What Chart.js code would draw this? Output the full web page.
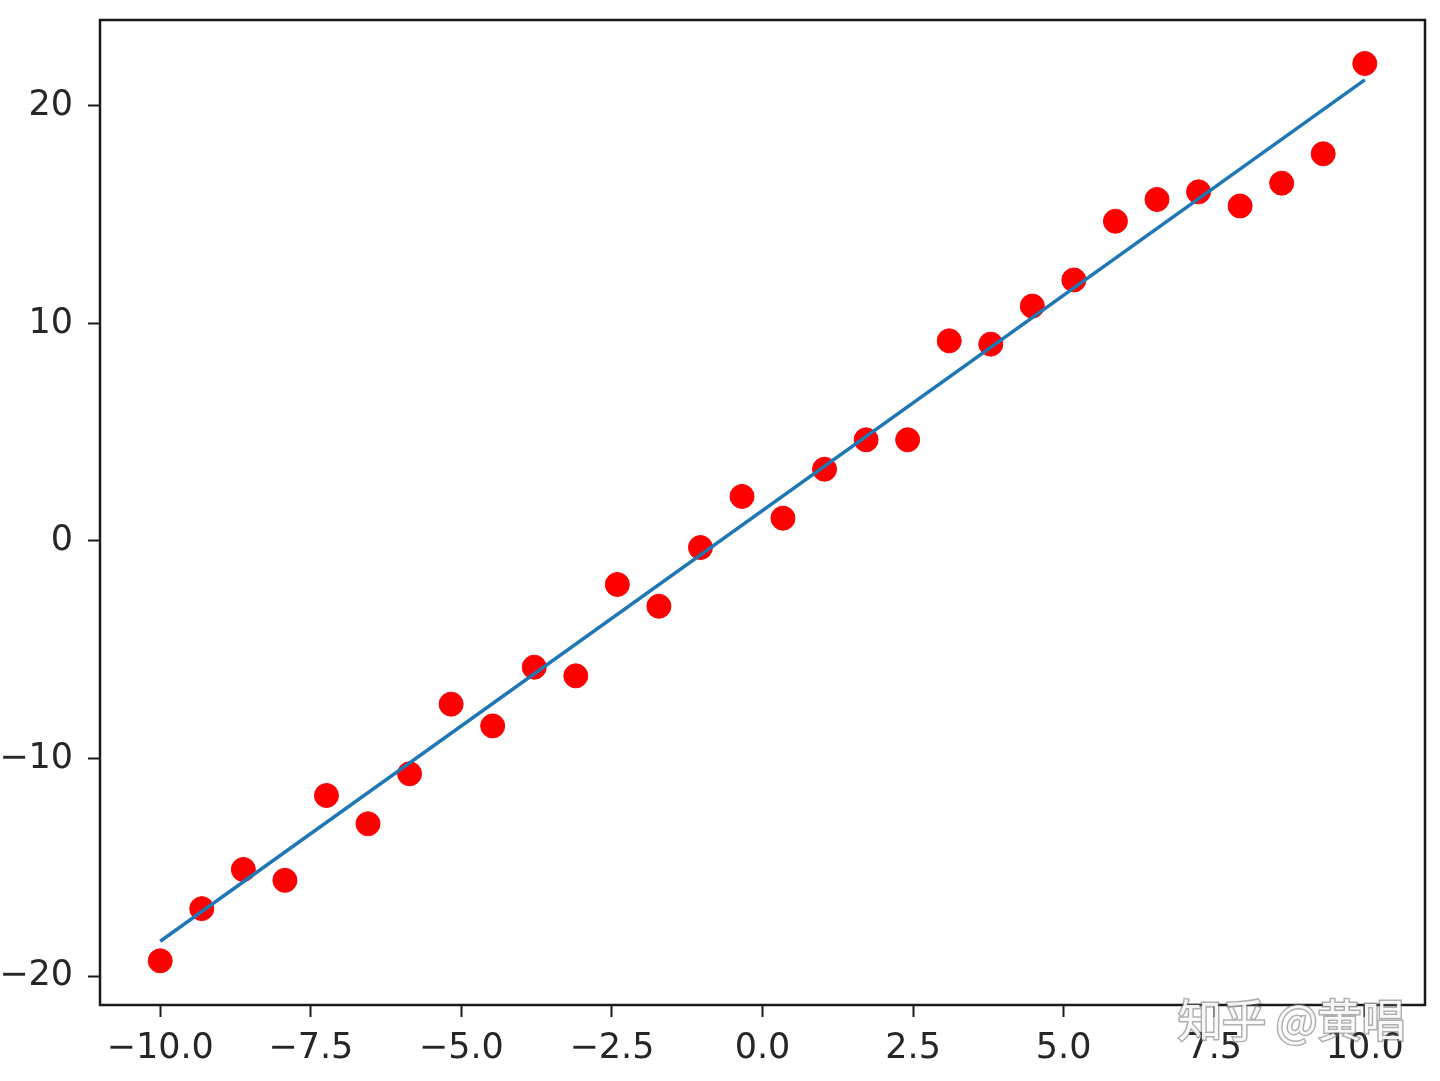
<!DOCTYPE html>
<html>
<head>
<meta charset="utf-8">
<script src="https://cdn.jsdelivr.net/npm/chart.js@4/dist/chart.umd.min.js"></script>
<style>
  html, body { margin: 0; padding: 0; background: #fff; }
  #wrap { width: 1440px; height: 1081px; }
</style>
</head>
<body>
<div id="wrap"><canvas id="myChart" width="1440" height="1081"></canvas></div>
<script>
// sample points
var xVals = [-10, -9.31, -8.62, -7.93, -7.24, -6.55, -5.86, -5.17, -4.48, -3.79,
             -3.10, -2.41, -1.72, -1.03, -0.34, 0.34, 1.03, 1.72, 2.41, 3.10,
             3.79, 4.48, 5.17, 5.86, 6.55, 7.24, 7.93, 8.62, 9.31, 10]
var yVals = [-19.3, -16.9, -15.1, -15.6, -11.7, -13.0, -10.7, -7.5, -8.5, -5.8,
             -6.2, -2.0, -3.0, -0.3, 2.05, 1.05, 3.3, 4.65, 4.65, 9.2,
             9.05, 10.8, 12.0, 14.7, 15.7, 16.05, 15.4, 16.45, 17.8, 21.95]
// fitted line end points
var lineX = [-10, 10]
var lineY = [-18.4, 21.2]

var xTicks = [-10, -7.5, -5, -2.5, 0, 2.5, 5, 7.5, 10]
var yTicks = [-20, -10, 0, 10, 20]

var pts = xVals.map((x, i) => ({x: x, y: yVals[i]}))
var linePts = lineX.map((x, i) => ({x: x, y: lineY[i]}))

function minus(s){ return String(s).replace('-', '\u2212') }

const framePlugin = {
    id: "frame",
    afterDraw(chart){
        const c = chart.ctx, a = chart.chartArea
        c.save()
        c.strokeStyle = "#1a1a1a"
        c.lineWidth = 2.5
        c.strokeRect(a.left, a.top, a.right - a.left, a.bottom - a.top)
        // watermark
        c.font = "44px 'Noto Sans CJK SC'"
        c.textBaseline = "middle"
        c.textAlign = "left"
        c.lineWidth = 3
        c.strokeStyle = "rgba(110,110,110,0.55)"
        c.strokeText("知乎 @黄唱", 1178, 1020)
        c.fillStyle = "rgba(255,255,255,0.92)"
        c.fillText("知乎 @黄唱", 1178, 1020)
        c.restore()
    }
}

const tickFont = { family: "'DejaVu Sans'", size: 35 }

const ctx = document.getElementById("myChart")
var chart = new Chart(ctx, {
    type: "scatter",
    data: {
        datasets: [{
            type: "line",
            label: "fit",
            data: linePts,
            borderColor: "#1f77b4",
            borderWidth: 3.5,
            pointRadius: 0,
            fill: false
        },
        {
            label: "data",
            data: pts,
            backgroundColor: "#ff0000",
            borderColor: "#ff0000",
            pointRadius: 12,
            pointHoverRadius: 12
        }]
    },
    plugins: [framePlugin],
    options: {
        responsive: false,
        animation: false,
        layout: { padding: { left: 0, right: 15, top: 20, bottom: 0 } },
        plugins: { legend: { display: false }, tooltip: { enabled: false } },
        scales: {
            x: {
                type: "linear",
                min: -11, max: 11,
                afterBuildTicks: s => { s.ticks = xTicks.map(v => ({value: v})) },
                afterFit: s => { s.height = 76; s.paddingLeft = 0; s.paddingRight = 0 },
                grid: { drawOnChartArea: false, tickLength: 12, tickWidth: 2, tickColor: "#1a1a1a" },
                border: { display: false },
                ticks: {
                    font: tickFont, color: "#262626", padding: 11, maxRotation: 0,
                    callback: v => minus(v.toFixed(1))
                }
            },
            y: {
                type: "linear",
                min: -21.33, max: 23.95,
                afterBuildTicks: s => { s.ticks = yTicks.map(v => ({value: v})) },
                afterFit: s => { s.width = 100; s.paddingTop = 0; s.paddingBottom = 0 },
                grid: { drawOnChartArea: false, tickLength: 12, tickWidth: 2, tickColor: "#1a1a1a" },
                border: { display: false },
                ticks: {
                    font: tickFont, color: "#262626", padding: 15,
                    callback: v => minus(v)
                }
            }
        }
    }
})
</script>
</body>
</html>
